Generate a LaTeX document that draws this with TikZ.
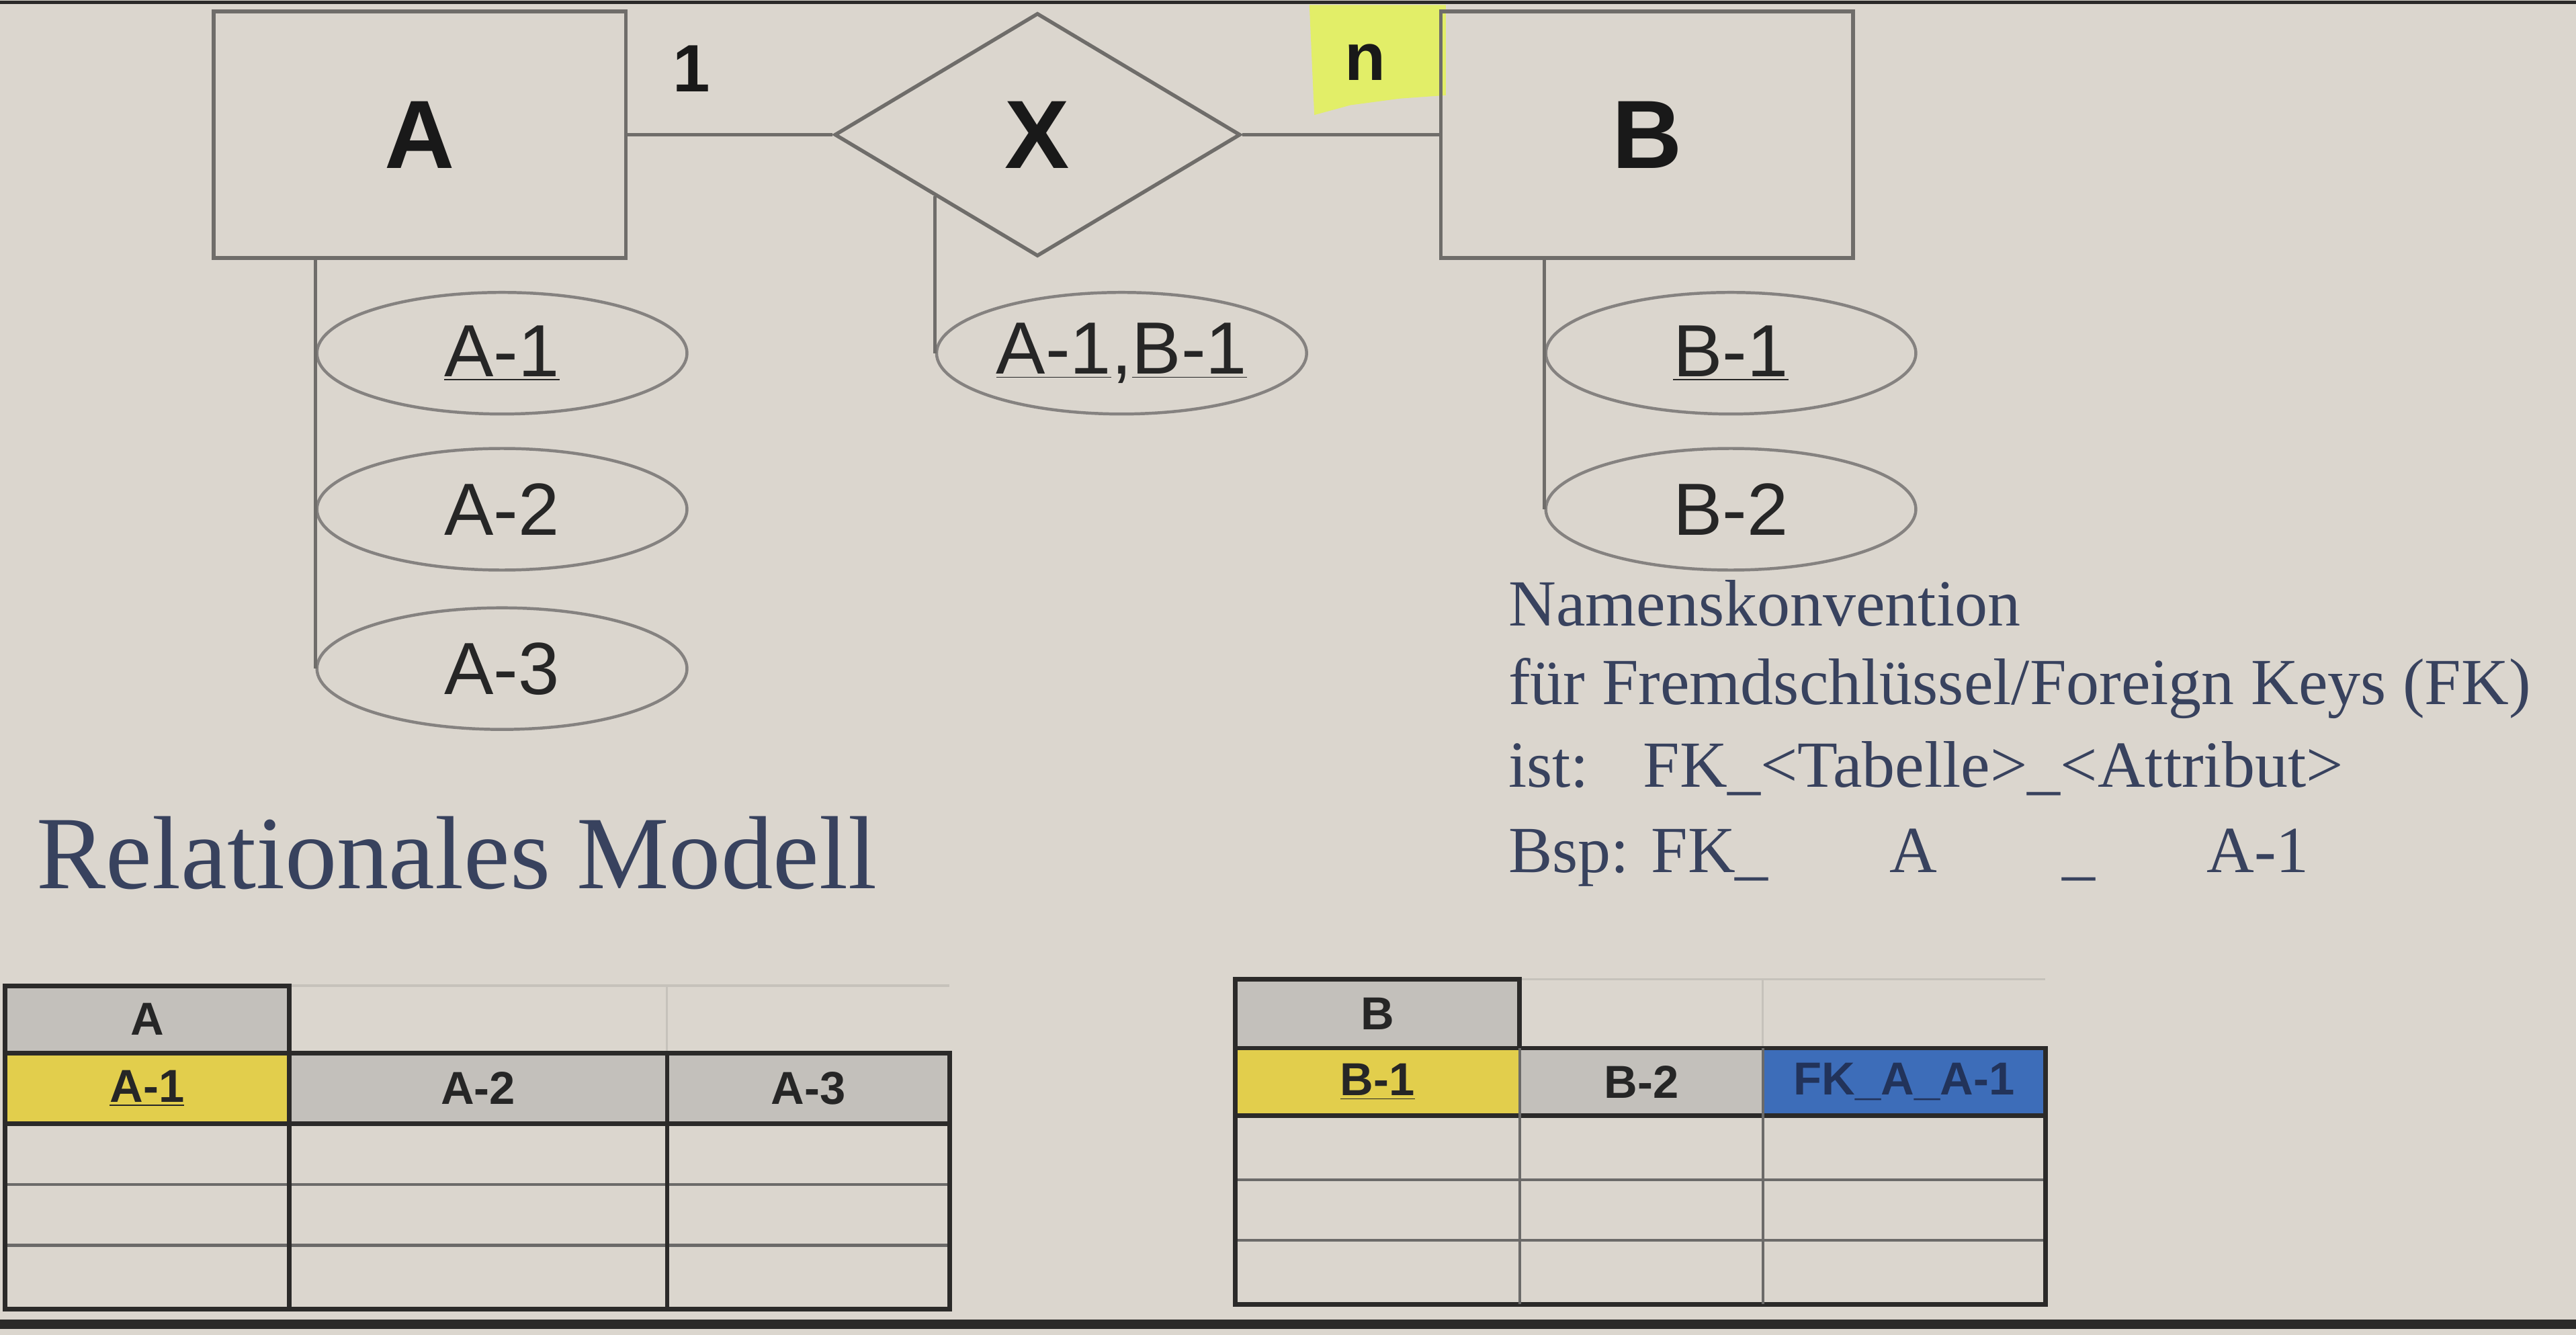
\documentclass[tikz,border=0pt]{standalone}
\usepackage{fontspec}
\setmainfont{Liberation Sans}
\newfontfamily\timesfont{Liberation Serif}
\usetikzlibrary{shapes.geometric,positioning}

\definecolor{paper}{HTML}{DBD6CE}
\definecolor{erline}{HTML}{6F6D6A}
\definecolor{ovalline}{HTML}{858280}
\definecolor{ink}{HTML}{38425E}
\definecolor{keyyellow}{HTML}{E2CE4C}
\definecolor{cellgrey}{HTML}{C3C0BB}
\definecolor{fkblue}{HTML}{3D6DB9}
\definecolor{fkink}{HTML}{22335A}
\definecolor{marker}{HTML}{E2EE68}
\definecolor{sheetgrid}{HTML}{C6C2BB}
\definecolor{rule}{HTML}{2B2A29}

\begin{document}
\begin{tikzpicture}[x=0.025cm, y=-0.025cm,
    entity/.style={draw=erline, line width=1.6pt, minimum width=6.275cm, minimum height=3.75cm, inner sep=0pt, text=black!90, font=\fontsize{42}{48}\selectfont\bfseries},
    relation/.style={diamond, draw=erline, line width=1.6pt, minimum width=6.175cm, minimum height=3.7cm, inner sep=0pt, text=black!90, font=\fontsize{42}{48}\selectfont\bfseries},
    attr/.style={ellipse, draw=ovalline, line width=1.3pt, minimum width=5.63cm, minimum height=1.85cm, inner sep=0pt, text=black!85, font=\fontsize{32}{36}\selectfont},
    card/.style={inner sep=0pt, text=black!90, font=\fontsize{29}{32}\selectfont\bfseries},
    conn/.style={draw=erline, line width=1.6pt},
    note/.style={anchor=base west, inner sep=0pt, text=ink, font=\timesfont\fontsize{28.5}{34}\selectfont},
    cell/.style={anchor=north west, inner sep=0pt, outer sep=0pt, text=black!85, font=\fontsize{20}{22}\selectfont\bfseries},
    thickrule/.style={draw=rule, line width=2pt},
    thinrule/.style={draw=rule!70, line width=1.2pt},
    faint/.style={draw=sheetgrid, line width=1pt}]

    \useasboundingbox (0,0) rectangle (1568,812.6);
    \fill[paper] (0,0) rectangle (1568,812.6);
    \draw[rule, line width=1.5pt] (0,1.5) -- (1568,1.5);
    \draw[rule, line width=4pt] (0,806) -- (1568,806);

    % ER-Modell
    \fill[marker] (797,3) -- (880,3) -- (880,58) -- (852,60) -- (822,64) -- (800,70) -- cycle;
    \node[entity] (A) at (255.5,82) {A};
    \node[relation] (X) at (631.5,82) {X};
    \node[entity] (B) at (1002.5,82) {B};
    \draw[conn] (A) -- (X) -- (B);
    \node[card] (one) at (421,42) {1};
    \node[card] (many) at (831,38) {n};

    \node[attr, anchor=west] (a1) at (192,215) {\underline{A-1}};
    \node[attr, anchor=west] (a2) at (192,310) {A-2};
    \node[attr, anchor=west] (a3) at (192,407) {A-3};
    \draw[conn] (A.south -| a1.west) -- (a3.west);

    \node[attr, anchor=west] (xa) at (X.south west |- a1.west) {\underline{A-1},\underline{B-1}};
    \draw[conn] (X.south west) -- (xa.west);

    \node[attr, anchor=west] (b1) at (940,215) {\underline{B-1}};
    \node[attr, anchor=west] (b2) at (940,310) {B-2};
    \draw[conn] (B.south -| b1.west) -- (b2.west);

    % Namenskonvention
    \node[note] (conv) at (918,381) {Namenskonvention};
    \node[note] (fklabel) at (918,429) {für Fremdschlüssel/Foreign Keys (FK)};
    \node[note] (ist) at (918,479) {ist:};
    \node[note] (istfk) at (1000,479) {FK\_<Tabelle>\_<Attribut>};
    \node[note] (bsp) at (918,531) {Bsp: FK\_};
    \node[note] (bspa) at (1150,531) {A};
    \node[note] (bspus) at (1255,531) {\_};
    \node[note] (bspattr) at (1343,531) {A-1};

    \node[anchor=base west, inner sep=0pt, text=ink, font=\timesfont\fontsize{45}{50}\selectfont] (relmodel) at (22,541) {Relationales Modell};

    % Tabelle A
    \draw[faint] (176,600) -- (578,600) (406,600) -- (406,641);
    \node[cell, fill=cellgrey, minimum width=4.325cm, minimum height=1.025cm] (tA) at (3,600) {A};
    \node[cell, fill=keyyellow, minimum width=4.325cm, minimum height=1.075cm] (ta1) at (3,641) {\underline{A-1}};
    \node[cell, fill=cellgrey, minimum width=5.75cm, minimum height=1.075cm, right=0pt of ta1] (ta2) {A-2};
    \node[cell, fill=cellgrey, minimum width=4.3cm, minimum height=1.075cm, right=0pt of ta2] (ta3) {A-3};
    \foreach \y in {721,758}
        \draw[thinrule] (ta1.west |- 0,\y) -- (ta3.east |- 0,\y);
    \draw[thickrule] (tA.north west) rectangle (tA.south east);
    \draw[thickrule] (ta1.north west) rectangle (ta3.south east);
    \draw[thickrule] (ta1.south west) -- (ta1.west |- 0,797) -- (ta3.east |- 0,797) -- (ta3.south east);
    \draw[thickrule] (ta2.north west) -- (ta2.north west |- 0,797);
    \draw[thickrule] (ta3.north west) -- (ta3.north west |- 0,797);

    % Tabelle B
    \draw[faint] (925,596) -- (1245,596) (1073,596) -- (1073,638);
    \node[cell, fill=cellgrey, minimum width=4.325cm, minimum height=1.05cm] (tB) at (752,596) {B};
    \node[cell, fill=keyyellow, minimum width=4.325cm, minimum height=1.025cm] (tb1) at (752,638) {\underline{B-1}};
    \node[cell, fill=cellgrey, minimum width=3.7cm, minimum height=1.025cm, right=0pt of tb1] (tb2) {B-2};
    \node[cell, fill=fkblue, text=fkink, minimum width=4.3cm, minimum height=1.025cm, right=0pt of tb2] (tb3) {FK\_A\_A-1};
    \foreach \y in {718,755}
        \draw[thinrule] (tb1.west |- 0,\y) -- (tb3.east |- 0,\y);
    \draw[thickrule] (tB.north west) rectangle (tB.south east);
    \draw[thickrule] (tb1.north west) rectangle (tb3.south east);
    \draw[thickrule] (tb1.south west) -- (tb1.west |- 0,794) -- (tb3.east |- 0,794) -- (tb3.south east);
    \draw[thinrule] (tb2.north west) -- (tb2.north west |- 0,794);
    \draw[thinrule] (tb3.north west) -- (tb3.north west |- 0,794);
\end{tikzpicture}
\end{document}
